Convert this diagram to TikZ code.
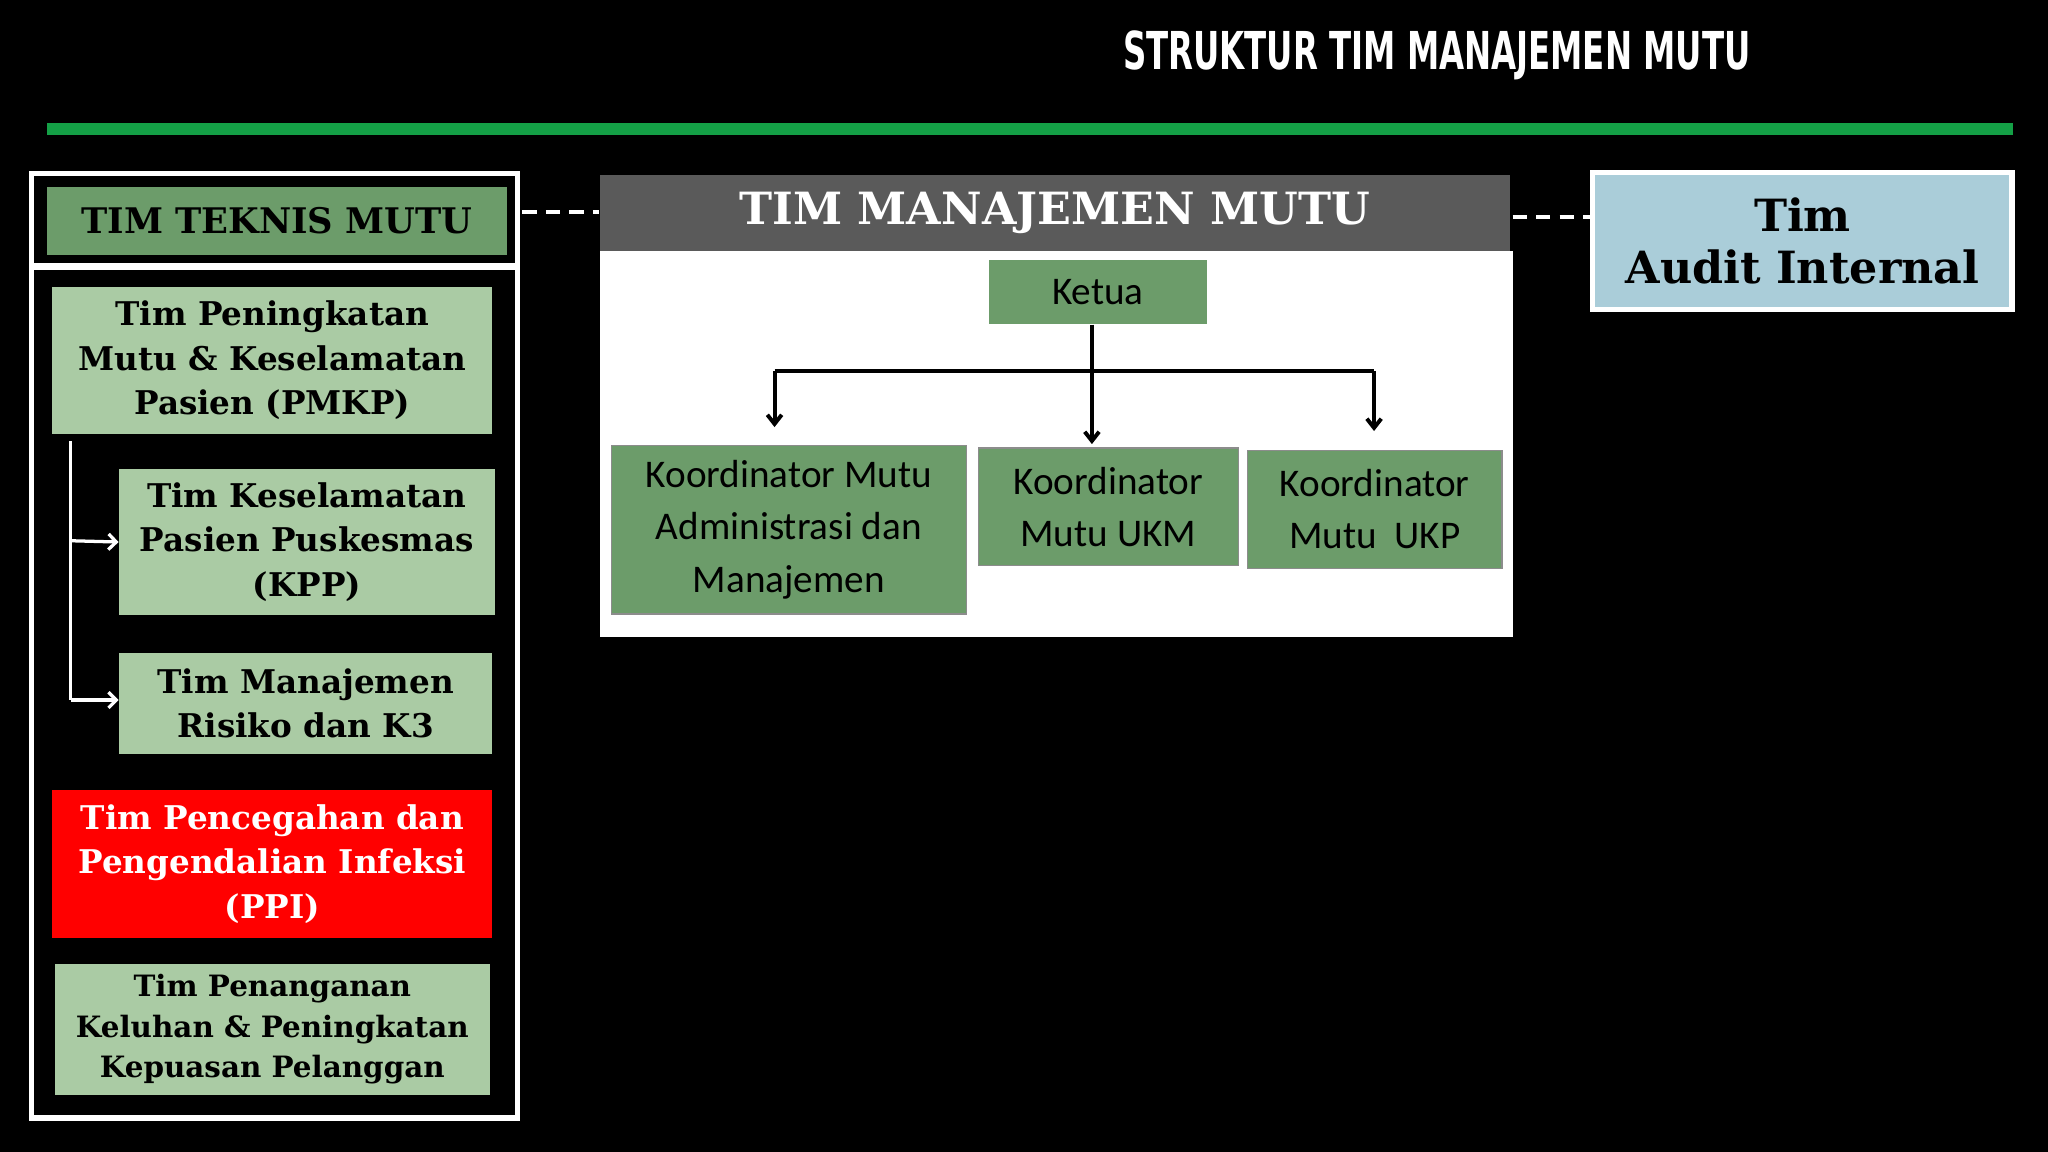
\documentclass[tikz,border=0pt]{standalone}
\usepackage{fontspec}
\setmainfont{DejaVu Serif}
\newfontfamily\calfnt{Carlito}
\newfontfamily\ttlfnt{DejaVu Sans}
\usetikzlibrary{arrows.meta}
\definecolor{dg}{RGB}{108,156,106}
\definecolor{lg}{RGB}{170,203,164}
\definecolor{gr}{RGB}{90,90,90}
\definecolor{lb}{RGB}{170,205,217}
\definecolor{ln}{RGB}{20,160,70}
\begin{document}
\begin{tikzpicture}[x=1pt,y=-1pt,
 box/.style={draw=none,align=center,inner sep=0pt,font=\bfseries\fontsize{25}{34}\selectfont},
 kbox/.style={draw=black!45,line width=1pt,fill=dg,align=center,inner sep=0pt,font=\calfnt\fontsize{30}{40}\selectfont},
 wl/.style={white,line width=3pt},
 con/.style={black,line width=3pt,-{Straight Barb[length=7pt,width=11pt]}},
 dsh/.style={white,line width=3pt,dash pattern=on 11pt off 7pt}]
\fill[black] (0,0) rectangle (1568,882);
\useasboundingbox (0,0) rectangle (1568,882);
\node[white,font=\ttlfnt\bfseries\fontsize{40}{40}\selectfont,xscale=0.62] (title) at (1100,42) {STRUKTUR TIM MANAJEMEN MUTU};
\fill[ln] (36,94) rectangle (1541,103);
% left frames
\draw[wl,line width=4pt] (24,133) rectangle (396,203);
\draw[wl,line width=4pt] (24,205) rectangle (396,856);
\node[box,fill=dg,minimum width=352pt,minimum height=52pt,font=\bfseries\fontsize{27}{30}\selectfont] (ttm) at (212,169) {TIM TEKNIS MUTU};
\node[box,fill=lg,minimum width=337pt,minimum height=112pt] (pmkp) at (208.5,276) {Tim Peningkatan\\Mutu \& Keselamatan\\Pasien (PMKP)};
\node[box,fill=lg,minimum width=288pt,minimum height=112pt] (kpp) at (235,415) {Tim Keselamatan\\Pasien Puskesmas\\(KPP)};
\node[box,fill=lg,minimum width=286pt,minimum height=77pt] (k3) at (234,538.5) {Tim Manajemen\\Risiko dan K3};
\node[box,fill=red,text=white,minimum width=337pt,minimum height=113pt] (ppi) at (208.5,661.5) {Tim Pencegahan dan\\Pengendalian Infeksi\\(PPI)};
\node[box,fill=lg,minimum width=333pt,minimum height=100pt,font=\bfseries\fontsize{22.5}{31}\selectfont] (kel) at (208.5,788) {Tim Penanganan\\Keluhan \& Peningkatan\\Kepuasan Pelanggan};
\coordinate (b0) at (54,338);
\coordinate (b1) at (54,414);
\coordinate (b2) at (54,536);
\draw[white,line width=2.5pt] (b0) -- (b2);
\draw[white,line width=2.5pt,-{Straight Barb[length=6pt,width=12pt]}] (b1) -- (kpp.west);
\draw[white,line width=2.5pt,-{Straight Barb[length=6pt,width=12pt]}] (b2) -- (k3.west |- b2);
% center
\node[box,fill=gr,text=white,minimum width=697pt,minimum height=58pt,font=\bfseries\fontsize{34}{36}\selectfont] (tmm) at (807.5,163) {TIM MANAJEMEN MUTU};
\fill[white] (459,192) rectangle (1158,488);
\draw[dsh] (400,162) -- (tmm.west |- 0,162);
\node[kbox,minimum width=167pt,minimum height=49pt,draw=none] (ketua) at (840.5,223.5) {Ketua};
\node[kbox,minimum width=272pt,minimum height=129pt] (kam) at (604,405.5) {Koordinator Mutu\\Administrasi dan\\Manajemen};
\node[kbox,minimum width=199pt,minimum height=90pt] (ukm) at (848.5,388) {Koordinator\\Mutu UKM};
\node[kbox,minimum width=195pt,minimum height=90pt] (ukp) at (1052.5,390) {Koordinator\\Mutu~ UKP};
\coordinate (jl) at (593,284);
\coordinate (jr) at (1052,284);
\draw[black,line width=3pt] (jl) -- (jr);
\draw[con] (ketua.south -| 836,0) -- (836,340);
\draw[con] (jl) -- (593,327);
\draw[con] (jr) -- (1052,330);
% right
\node[box,fill=lb,draw=white,line width=4pt,minimum width=321pt,minimum height=105pt,font=\bfseries\fontsize{34}{40}\selectfont] (aud) at (1380,184.5) {Tim\\Audit Internal};
\draw[dsh] (1158,166) -- (aud.west |- 0,166);
\end{tikzpicture}
\end{document}
